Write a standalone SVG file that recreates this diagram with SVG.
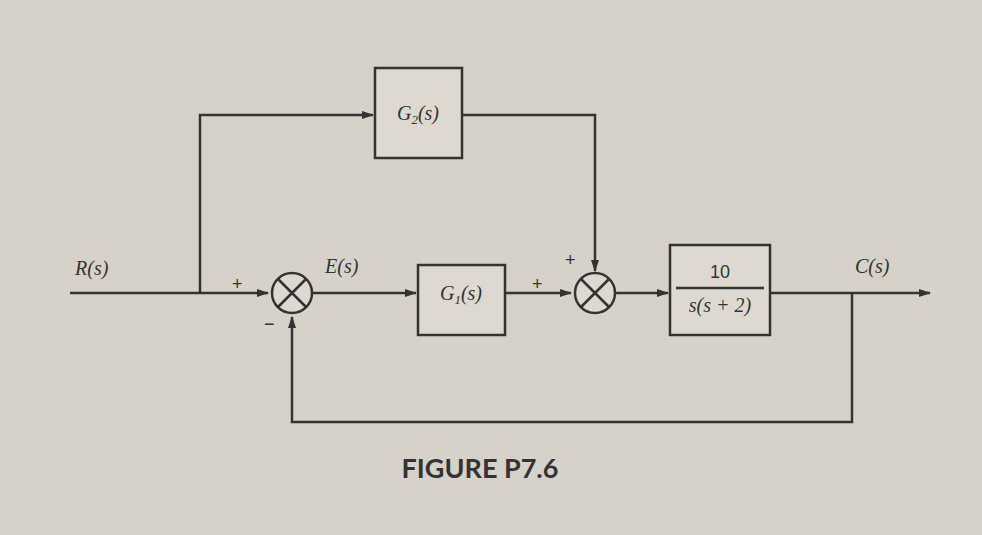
<svg xmlns="http://www.w3.org/2000/svg" width="982" height="535" viewBox="0 0 982 535">
<defs>
<marker id="ah" markerWidth="12" markerHeight="8" refX="11" refY="4" orient="auto" markerUnits="userSpaceOnUse"><path d="M0,0 L12,4 L0,8 z" fill="#333"/></marker>
</defs>
<style>
.ln{stroke:#333;stroke-width:2.5;fill:none}
.bx{stroke:#333;stroke-width:2.5;fill:#ddd9d0}
.t{font-family:"Liberation Serif",serif;font-style:italic;font-size:20px;fill:#333}
.s{font-family:"Liberation Sans",sans-serif;font-size:18px;fill:#333}
</style>
<rect width="982" height="535" fill="#d6d2ca"/>
<g id="connectors">
<path class="ln" d="M70,293 H268" marker-end="url(#ah)"/>
<path class="ln" d="M200,293 V115 H373" marker-end="url(#ah)"/>
<path class="ln" d="M462,115 H595 V271" marker-end="url(#ah)"/>
<path class="ln" d="M312,293 H416" marker-end="url(#ah)"/>
<path class="ln" d="M505,293 H571" marker-end="url(#ah)"/>
<path class="ln" d="M615,293 H668" marker-end="url(#ah)"/>
<path class="ln" d="M770,293 H930" marker-end="url(#ah)"/>
<path class="ln" d="M852,293 V422 H292 V317" marker-end="url(#ah)"/>
</g>
<g id="sum1"><circle cx="292" cy="293" r="20" class="bx"/><path class="ln" d="M278,279 L306,307 M306,279 L278,307"/>
<text class="s" x="232" y="290">+</text><text class="s" x="264" y="330">−</text></g>
<g id="sum2"><circle cx="595" cy="293" r="20" class="bx"/><path class="ln" d="M581,279 L609,307 M609,279 L581,307"/>
<text class="s" x="532" y="290">+</text><text class="s" x="565" y="266">+</text></g>
<g id="G2"><rect class="bx" x="375" y="68" width="87" height="90"/><text class="t" x="418" y="120" text-anchor="middle">G<tspan font-size="13" dy="4">2</tspan><tspan dy="-4">(s)</tspan></text></g>
<g id="G1"><rect class="bx" x="418" y="265" width="87" height="70"/><text class="t" x="461" y="300" text-anchor="middle">G<tspan font-size="13" dy="4">1</tspan><tspan dy="-4">(s)</tspan></text></g>
<g id="plant"><rect class="bx" x="670" y="245" width="100" height="90"/><line class="ln" x1="676" y1="288" x2="764" y2="288" stroke-width="1.5"/>
<text class="s" x="720" y="278" text-anchor="middle" font-family="Liberation Serif">10</text><text class="t" x="720" y="312" text-anchor="middle" font-size="18">s(s + 2)</text></g>
<g id="labels">
<text class="t" x="75" y="275">R(s)</text>
<text class="t" x="325" y="273">E(s)</text>
<text class="t" x="855" y="273">C(s)</text>
<text x="480" y="478" text-anchor="middle" font-family="Lato,sans-serif" font-weight="bold" font-size="27" fill="#333">FIGURE P7.6</text>
</g>
</svg>
